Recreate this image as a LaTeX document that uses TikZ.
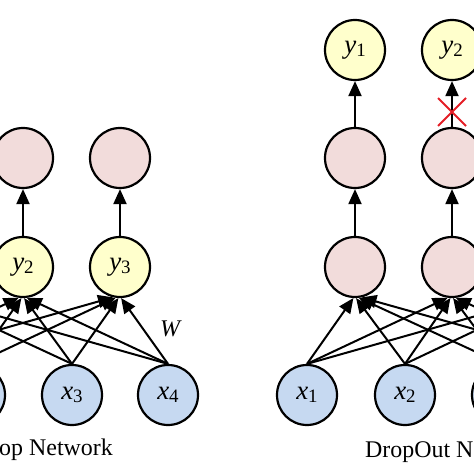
\documentclass[tikz,border=0pt]{standalone}
\usepackage{fontspec}
\setmainfont{Liberation Serif}
\usetikzlibrary{arrows.meta}
\definecolor{inblue}{RGB}{198,217,241}
\definecolor{hidyel}{RGB}{255,255,204}
\definecolor{hidpink}{RGB}{242,220,219}
\definecolor{dropred}{RGB}{228,30,38}
\newcommand\lbl[2]{\textit{#1}\raisebox{-3pt}{\fontsize{19}{19}\selectfont #2}}
\tikzset{
  neuron/.style={circle,draw=black,line width=2.2bp,minimum size=60bp,inner sep=0pt,
    font=\fontsize{27}{27}\selectfont},
  innode/.style={neuron,fill=inblue},
  yelnode/.style={neuron,fill=hidyel},
  pinknode/.style={neuron,fill=hidpink},
  conn/.style={line width=2bp,-{Triangle[length=15bp,width=13bp]}},
  caption/.style={font=\fontsize{24}{24}\selectfont,inner sep=0pt},
  cross/.style={draw=dropred,line width=1.8bp}
}
\begin{document}
\begin{tikzpicture}[x=1bp,y=-1bp]
\useasboundingbox (0,0) rectangle (474,474);
\clip (0,0) rectangle (474,474);
% ---------- left network ----------
\node[innode] (lx1) at (-121,395) {};
\node[innode] (lx2) at (-25,395) {};
\node[innode] (lx3) at (72,395) {\lbl{x}{3}};
\node[innode] (lx4) at (168,395) {\lbl{x}{4}};
\node[yelnode] (ly1) at (-74,267) {};
\node[yelnode] (ly2) at (23,267) {\lbl{y}{2}};
\node[yelnode] (ly3) at (120,267) {\lbl{y}{3}};
\foreach \j/\xx in {1/-74,2/23,3/120}{
  \node[pinknode] (lp\j) at (\xx,158) {};
  \draw[conn] (ly\j.north) -- (lp\j.south);
}
\foreach \i in {1,...,4}
  \foreach \j in {1,2,3}{
    \pgfmathsetmacro\ang{270+5*(\i-\j-0.5)}
    \draw[conn] (lx\i.north) -- (ly\j.\ang);
  }
\node[font=\fontsize{24}{24}\selectfont\itshape] (wlab) at (170,329) {W};
\node[caption,anchor=base east] (lcap) at (113,455) {op Network};
% ---------- right network ----------
\node[innode] (rx1) at (307,395) {\lbl{x}{1}};
\node[innode] (rx2) at (405,395) {\lbl{x}{2}};
\node[innode] (rx3) at (502,395) {};
\node[innode] (rx4) at (598,395) {};
\node[yelnode] (ry1) at (355,50) {\lbl{y}{1}};
\node[yelnode] (ry2) at (452,50) {\lbl{y}{2}};
\node[yelnode] (ry3) at (549,50) {};
\foreach \j/\xx in {1/355,2/452,3/549}{
  \node[pinknode] (rh\j) at (\xx,267) {};
  \node[pinknode] (rp\j) at (\xx,158) {};
  \draw[conn] (rh\j.north) -- (rp\j.south);
  \draw[conn] (rp\j.north) -- (ry\j.south);
}
\foreach \i in {1,...,4}
  \foreach \j in {1,2,3}{
    \pgfmathsetmacro\ang{270+5*(\i-\j-0.5)}
    \draw[conn] (rx\i.north) -- (rh\j.\ang);
  }
\coordinate (xc) at (452,112);
\draw[cross] ([shift={(-14,-14)}]xc) -- ([shift={(14,14)}]xc);
\draw[cross] ([shift={(-14,14)}]xc) -- ([shift={(14,-14)}]xc);
\node[caption,anchor=base west] (rcap) at (365,457) {DropOut Network};
\end{tikzpicture}
\end{document}
